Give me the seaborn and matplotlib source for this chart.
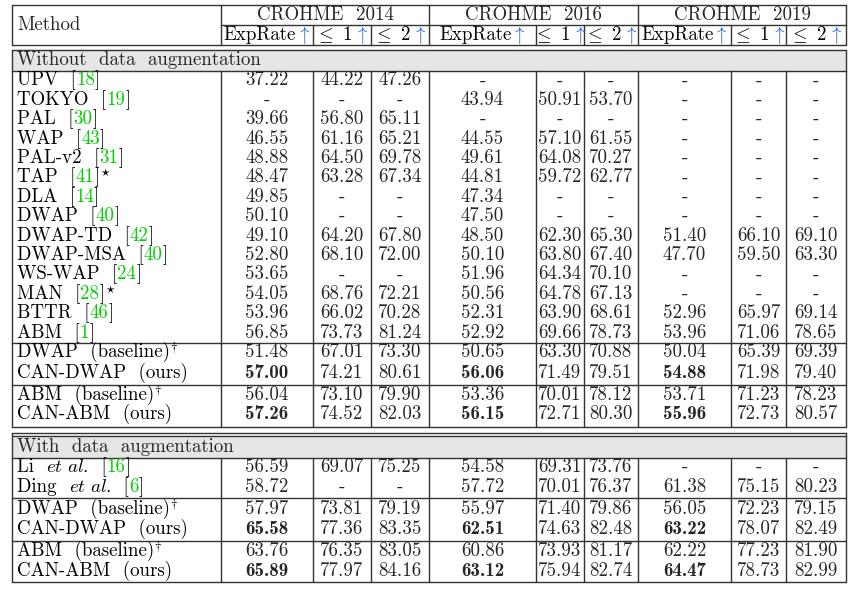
import matplotlib.pyplot as plt
import seaborn as sns

sns.set_style("white")
plt.rcParams['font.family'] = ['cmr10', 'DejaVu Serif']
plt.rcParams['mathtext.fontset'] = 'cm'
plt.rcParams['axes.unicode_minus'] = False

datasets = ["CROHME 2014", "CROHME 2016", "CROHME 2019"]
metrics = ["ExpRate", "≤ 1", "≤ 2"]

# section 1 : without data augmentation
names1 = ["UPV", "TOKYO", "PAL", "WAP", "PAL-v2", "TAP", "DLA", "DWAP", "DWAP-TD",
          "DWAP-MSA", "WS-WAP", "MAN", "BTTR", "ABM"]
refs1 = ["18", "19", "30", "43", "31", "41", "14", "40", "42", "40", "24", "28", "46", "1"]
marks1 = ["", "", "", "", "", "*", "", "", "", "", "", "*", "", ""]
values1 = [
    ["37.22", "44.22", "47.26", "-", "-", "-", "-", "-", "-"],
    ["-", "-", "-", "43.94", "50.91", "53.70", "-", "-", "-"],
    ["39.66", "56.80", "65.11", "-", "-", "-", "-", "-", "-"],
    ["46.55", "61.16", "65.21", "44.55", "57.10", "61.55", "-", "-", "-"],
    ["48.88", "64.50", "69.78", "49.61", "64.08", "70.27", "-", "-", "-"],
    ["48.47", "63.28", "67.34", "44.81", "59.72", "62.77", "-", "-", "-"],
    ["49.85", "-", "-", "47.34", "-", "-", "-", "-", "-"],
    ["50.10", "-", "-", "47.50", "-", "-", "-", "-", "-"],
    ["49.10", "64.20", "67.80", "48.50", "62.30", "65.30", "51.40", "66.10", "69.10"],
    ["52.80", "68.10", "72.00", "50.10", "63.80", "67.40", "47.70", "59.50", "63.30"],
    ["53.65", "-", "-", "51.96", "64.34", "70.10", "-", "-", "-"],
    ["54.05", "68.76", "72.21", "50.56", "64.78", "67.13", "-", "-", "-"],
    ["53.96", "66.02", "70.28", "52.31", "63.90", "68.61", "52.96", "65.97", "69.14"],
    ["56.85", "73.73", "81.24", "52.92", "69.66", "78.73", "53.96", "71.06", "78.65"],
]
ours_names = ["DWAP (baseline)", "CAN-DWAP (ours)", "ABM (baseline)", "CAN-ABM (ours)"]
ours_marks = ["+", "", "+", ""]
ours1 = [
    ["51.48", "67.01", "73.30", "50.65", "63.30", "70.88", "50.04", "65.39", "69.39"],
    ["57.00", "74.21", "80.61", "56.06", "71.49", "79.51", "54.88", "71.98", "79.40"],
    ["56.04", "73.10", "79.90", "53.36", "70.01", "78.12", "53.71", "71.23", "78.23"],
    ["57.26", "74.52", "82.03", "56.15", "72.71", "80.30", "55.96", "72.73", "80.57"],
]
# section 2 : with data augmentation
names2 = ["Li", "Ding"]
refs2 = ["16", "6"]
values2 = [
    ["56.59", "69.07", "75.25", "54.58", "69.31", "73.76", "-", "-", "-"],
    ["58.72", "-", "-", "57.72", "70.01", "76.37", "61.38", "75.15", "80.23"],
]
ours2 = [
    ["57.97", "73.81", "79.19", "55.97", "71.40", "79.86", "56.05", "72.23", "79.15"],
    ["65.58", "77.36", "83.35", "62.51", "74.63", "82.48", "63.22", "78.07", "82.49"],
    ["63.76", "76.35", "83.05", "60.86", "73.93", "81.17", "62.22", "77.23", "81.90"],
    ["65.89", "77.97", "84.16", "63.12", "75.94", "82.74", "64.47", "78.73", "82.99"],
]
bold_cols = [0, 3, 6]  # ExpRate columns bold for the "ours" rows

fig = plt.figure(figsize=(8.58, 5.90), dpi=100)
ax = fig.add_axes([0, 0, 1, 1])
ax.set_xlim(0, 858)
ax.set_ylim(590, 0)
ax.axis('off')
renderer = fig.canvas.get_renderer()

FS = 13.6
GREEN = '#00d000'
BLUE = '#1a5fd6'
L, R = 12, 846
colx = [221, 313, 371, 429, 536, 584, 638, 731, 786, 846]


def hline(y, x0=L, x1=R):
    ax.plot([x0, x1], [y, y], color='#333333', lw=1.0)


def vlines(y0, y1, xs):
    for x in xs:
        ax.plot([x, x], [y0, y1], color='#333333', lw=1.0)


def pieces(x, y, parts):
    # parts: list of (text, color)
    for s, c in parts:
        t = ax.text(x, y, s, fontsize=FS, color=c, va='center', ha='left')
        bb = t.get_window_extent(renderer)
        x += bb.width


def method(y, name, ref=None, mark=""):
    if name in ("Li", "Ding"):
        parts = [(name + "  ", 'black'), (r"$\it{et\ al.}$", 'black'), ("  [", 'black')]
    else:
        parts = [(name.replace(" ", "  ") + ("  [" if ref else ""), 'black')]
    if ref:
        parts += [(ref, GREEN), ("]", 'black')]
    if mark == "*":
        parts.append((r"$^{\star}$", 'black'))
    elif mark == "+":
        parts.append((r"$^{\dagger}$", 'black'))
    pieces(17, y, parts)


def values(y, vals, bold=()):
    for i, v in enumerate(vals):
        xc = (colx[i] + colx[i + 1]) / 2
        fam = 'cmb10' if i in bold else 'cmr10'
        ax.text(xc, y, v, fontsize=FS, family=fam, ha='center', va='center')


# header
hline(5)
hline(45)
hline(25, colx[0], R)
vlines(5, 45, [L, colx[0], colx[3], colx[6], R])
vlines(25, 45, [colx[1], colx[2], colx[4], colx[5], colx[7], colx[8]])
ax.text(17, 25, "Method", fontsize=FS, va='center')
for k, d in enumerate(datasets):
    ax.text((colx[3 * k] + colx[3 * k + 3]) / 2, 15, d.replace(" ", "  "), fontsize=FS,
            ha='center', va='center')
    for j, m in enumerate(metrics):
        xc = (colx[3 * k + j] + colx[3 * k + j + 1]) / 2
        if j == 0:
            lab = [(m, 'black'), (r"$\uparrow$", BLUE)]
        else:
            lab = [(r"$\leq$ " + m[-1] + " ", 'black'), (r"$\uparrow$", BLUE)]
        ts = [ax.text(0, 0, s, fontsize=FS) for s, _ in lab]
        ws = [t.get_window_extent(renderer).width for t in ts]
        for t in ts:
            t.remove()
        pieces(xc - sum(ws) / 2, 35, lab)

# section 1
ax.add_patch(plt.Rectangle((L, 50), R - L, 21, color='#e6e6e6', zorder=0))
hline(50)
hline(71)
vlines(50, 71, [L, R])
ax.text(17, 60, "Without  data  augmentation", fontsize=FS, va='center')
y0, step = 80.5, 19.4
for i in range(len(names1)):
    y = y0 + i * step
    method(y, names1[i], refs1[i], marks1[i])
    values(y, values1[i])
ours_y1 = [352, 373, 395, 414]
for i in range(4):
    method(ours_y1[i], ours_names[i], None, ours_marks[i])
    values(ours_y1[i], ours1[i], bold_cols if i % 2 else ())
hline(343)
hline(385)
hline(427)
vlines(71, 427, [L] + colx)

# section 2
ax.add_patch(plt.Rectangle((L, 436), R - L, 22, color='#e6e6e6', zorder=0))
hline(433)
hline(436)
hline(458)
vlines(433, 458, [L, R])
ax.text(17, 447, "With  data  augmentation", fontsize=FS, va='center')
for i, y in enumerate([467, 487]):
    method(y, names2[i], refs2[i])
    values(y, values2[i])
ours_y2 = [509, 529, 551, 571]
for i in range(4):
    method(ours_y2[i], ours_names[i], None, ours_marks[i])
    values(ours_y2[i], ours2[i], bold_cols if i % 2 else ())
hline(498)
hline(541)
hline(582)
vlines(458, 582, [L] + colx)

fig.savefig("out.png", dpi=100)
